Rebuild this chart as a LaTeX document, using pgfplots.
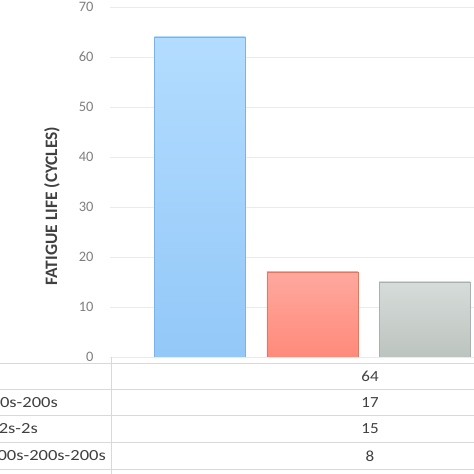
\documentclass[border=0pt]{standalone}
\usepackage{fontspec}
\setmainfont{Carlito}
\usepackage{pgfplots}
\pgfplotsset{compat=1.18}
\definecolor{gridc}{HTML}{EBEBEB}
\definecolor{linec}{HTML}{D9D9D9}
\definecolor{txt}{HTML}{404040}
\definecolor{tick}{HTML}{7F7F7F}
\begin{document}
\begin{tikzpicture}[x=1bp,y=1bp]
\useasboundingbox (0,0) rectangle (474,474);
\clip (0,0) rectangle (474,474);
\fill[white] (0,0) rectangle (474,474);
\begin{axis}[
  at={(110bp,117bp)}, anchor=south west,
  scale only axis, width=364bp, height=350bp,
  xmin=-0.801, xmax=2.44, ymin=0, ymax=70,
  ytick={0,10,...,70},
  hide x axis,
  axis y line*=left,
  y axis line style={draw=none},
  major tick length=0pt,
  ymajorgrids,
  grid style={draw=gridc, line width=0.8pt},
  /pgf/number format/assume math mode=true,
  yticklabel style={font=\fontsize{14.5}{16}\selectfont, text=tick, anchor=east, xshift=-13bp},
  clip=true,
]
\addplot[ybar, bar width=0.81, bar shift=0, draw={rgb,255:red,125;green,178;blue,230}, top color={rgb,255:red,179;green,220;blue,255}, bottom color={rgb,255:red,147;green,200;blue,248}] coordinates {(0,64)};
\addplot[ybar, bar width=0.81, bar shift=0, draw={rgb,255:red,224;green,120;blue,100}, top color={rgb,255:red,255;green,168;blue,158}, bottom color={rgb,255:red,255;green,138;blue,122}] coordinates {(1,17)};
\addplot[ybar, bar width=0.81, bar shift=0, draw={rgb,255:red,170;green,176;blue,173}, top color={rgb,255:red,214;green,220;blue,217}, bottom color={rgb,255:red,188;green,196;blue,192}] coordinates {(2,15)};
\addplot[ybar, bar width=0.81, bar shift=0, draw={rgb,255:red,200;green,170;blue,80}, top color={rgb,255:red,255;green,220;blue,130}, bottom color={rgb,255:red,250;green,200;blue,90}] coordinates {(3,8)};
\end{axis}
\node[rotate=90, font=\fontsize{17.5}{20}\selectfont\bfseries, text=txt, inner sep=0pt] at (52,474-206) {FATIGUE LIFE (CYCLES)};
% data table
\draw[linec, line width=0.8pt] (0,474-363) -- (474,474-363);
\draw[linec, line width=0.8pt] (0,474-389.5) -- (474,474-389.5);
\draw[linec, line width=0.8pt] (0,474-415.5) -- (474,474-415.5);
\draw[linec, line width=0.8pt] (0,474-442) -- (474,474-442);
\draw[linec, line width=0.8pt] (0,474-469) -- (474,474-469);
\draw[linec, line width=0.8pt] (111,474-357) -- (111,0);
\begin{scope}[every node/.style={font=\fontsize{15.5}{18}\selectfont, text=txt, inner sep=0pt}]
\node at (370,474-376) {\scalebox{1.1}[1]{64}};
\node at (370,474-403) {\scalebox{1.1}[1]{17}};
\node at (370,474-429) {\scalebox{1.1}[1]{15}};
\node at (370,474-456) {\scalebox{1.1}[1]{8}};
\node[anchor=east] at (58,474-403) {\scalebox{1.2}[1]{200s-200s}};
\node[anchor=east] at (38,474-429) {\scalebox{1.2}[1]{2s-2s}};
\node[anchor=east] at (106,474-456) {\scalebox{1.2}[1]{200s-200s-200s}};
\end{scope}
\end{tikzpicture}
\end{document}
